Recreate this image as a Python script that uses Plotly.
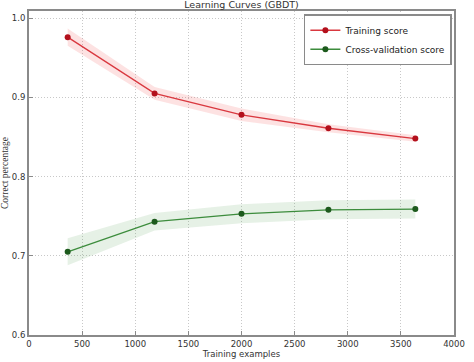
import plotly.graph_objects as go
import numpy as np

train_sizes = [364, 1182, 2000, 2818, 3636]
train_mean = [0.976, 0.905, 0.878, 0.861, 0.848]
train_std = [0.011, 0.008, 0.008, 0.005, 0.004]
cv_mean = [0.705, 0.743, 0.753, 0.758, 0.759]
cv_std = [0.017, 0.011, 0.012, 0.012, 0.012]

x_ticks = [0, 500, 1000, 1500, 2000, 2500, 3000, 3500, 4000]
y_ticks = [0.6, 0.7, 0.8, 0.9, 1.0]

tm, ts = np.array(train_mean), np.array(train_std)
cm, cs = np.array(cv_mean), np.array(cv_std)
xs = list(train_sizes)

fig = go.Figure()
# bands
fig.add_trace(go.Scatter(x=xs + xs[::-1], y=list(tm + ts) + list((tm - ts)[::-1]),
                         mode="lines", fill="toself", fillcolor="rgba(240,60,60,0.15)",
                         line=dict(width=0), hoverinfo="skip", showlegend=False))
fig.add_trace(go.Scatter(x=xs + xs[::-1], y=list(cm + cs) + list((cm - cs)[::-1]),
                         mode="lines", fill="toself", fillcolor="rgba(60,150,60,0.13)",
                         line=dict(width=0), hoverinfo="skip", showlegend=False))
fig.add_trace(go.Scatter(x=xs, y=train_mean, mode="lines+markers", name="Training score",
                         line=dict(color="#d9383f", width=1.3),
                         marker=dict(color="#b3101c", size=6)))
fig.add_trace(go.Scatter(x=xs, y=cv_mean, mode="lines+markers", name="Cross-validation score",
                         line=dict(color="#3c8c3c", width=1.3),
                         marker=dict(color="#1d5a1d", size=6)))

axis_common = dict(showline=True, mirror=True, linecolor="#8a8a8a", linewidth=2,
                   showgrid=True, gridcolor="#c8c8c8", griddash="1px,2px", gridwidth=1,
                   zeroline=False, ticks="inside", ticklen=4, tickcolor="#8a8a8a",
                   automargin=False,
                   tickfont=dict(family="DejaVu Sans", size=8.5, color="#333"))

fig.update_layout(
    width=474, height=362,
    margin=dict(l=29, r=20, t=11, b=27),
    paper_bgcolor="white", plot_bgcolor="white",
    title=dict(text="Learning Curves (GBDT)", x=0.5, xref="paper",
               y=1 - 1 / 362, yanchor="top",
               font=dict(family="DejaVu Sans", size=9.5, color="#333"),
               automargin=False),
    xaxis=dict(range=[0, 4000], tickvals=x_ticks, ticktext=[str(v) for v in x_ticks],
               title=dict(text="Training examples", standoff=3,
                          font=dict(family="DejaVu Sans", size=8.5, color="#333")),
               **axis_common),
    yaxis=dict(range=[0.6, 1.009], tickvals=y_ticks, ticktext=[f"{v:.1f}" for v in y_ticks],
               title=dict(text="Correct percentage", standoff=5,
                          font=dict(family="Liberation Serif", size=9.5, color="#333")),
               **axis_common),
    legend=dict(x=0.995, y=0.99, xanchor="right", yanchor="top",
                bordercolor="#8a8a8a", borderwidth=1.5, bgcolor="white",
                font=dict(family="DejaVu Sans", size=9, color="#222"),
                tracegroupgap=0, itemwidth=30),
    showlegend=True,
)

fig.write_html("out.html", config={"displayModeBar": False},
               post_script="document.body.style.margin='0';document.body.style.padding='0';")
